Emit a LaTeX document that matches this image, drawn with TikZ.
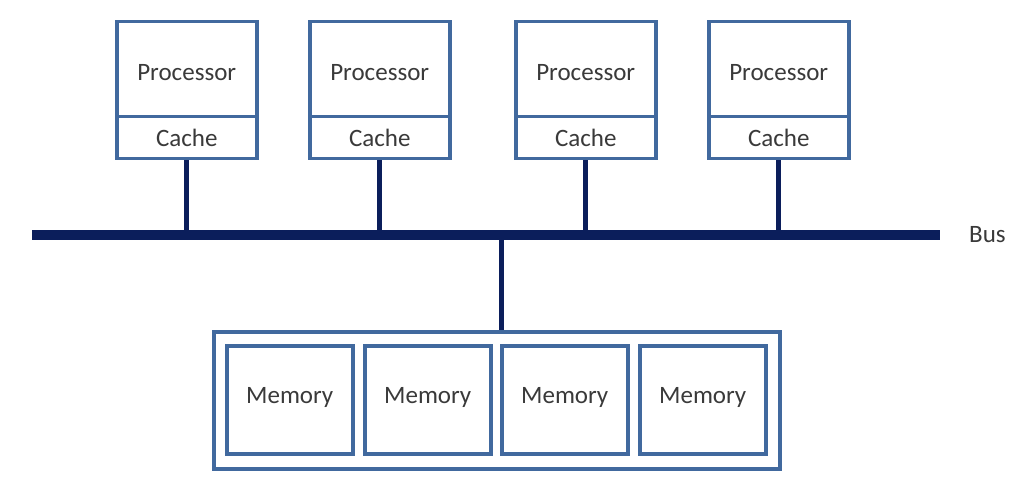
\documentclass[tikz,border=0pt]{standalone}
\usepackage{fontspec}
\setmainfont{Carlito}
\begin{document}
\begin{tikzpicture}[x=1pt,y=-1pt,
  box/.style={draw=boxblue,line width=3.5pt,fill=white,inner sep=0pt},
  lbl/.style={text=txtgray,font=\fontsize{25}{28}\selectfont,inner sep=0pt},
  link/.style={draw=busnavy,line width=5pt}]
\definecolor{boxblue}{HTML}{41699E}
\definecolor{busnavy}{HTML}{0B1E5B}
\definecolor{txtgray}{HTML}{3A3A3A}
\useasboundingbox[fill=white] (0,0) rectangle (1036,478);
% bus
\coordinate (busL) at (32,235);
\coordinate (busR) at (940,235);
\draw[draw=busnavy,line width=10pt] (busL) -- (busR);
\node[lbl,anchor=west] (buslbl) at (969,235) {Bus};
% processors
\foreach \i/\x in {1/115,2/308,3/514,4/707}{
  \node[box,minimum width=140pt,minimum height=95pt,anchor=north west] (p\i) at (\x,20) {};
  \node[box,minimum width=140pt,minimum height=42pt,anchor=north west] (c\i) at (\x,115) {};
  \node[lbl] at ([yshift=-3pt]p\i.center) {Processor};
  \node[lbl] at ([yshift=0pt]c\i.center) {Cache};
  \coordinate (b\i) at (c\i.south |- busL);
  \draw[link] (c\i.south) -- (b\i);
}
% memory
\node[box,minimum width=566pt,minimum height=137pt,anchor=north west] (mem) at (212,330) {};
\foreach \i/\x in {1/225,2/363,3/500,4/638}{
  \node[box,minimum width=126pt,minimum height=108pt,anchor=north west] (m\i) at (\x,344) {};
  \node[lbl] at ([yshift=2pt]m\i.center) {Memory};
}
\coordinate (bm) at (501,235);
\draw[link] (bm) -- (bm |- mem.north);
\end{tikzpicture}
\end{document}
